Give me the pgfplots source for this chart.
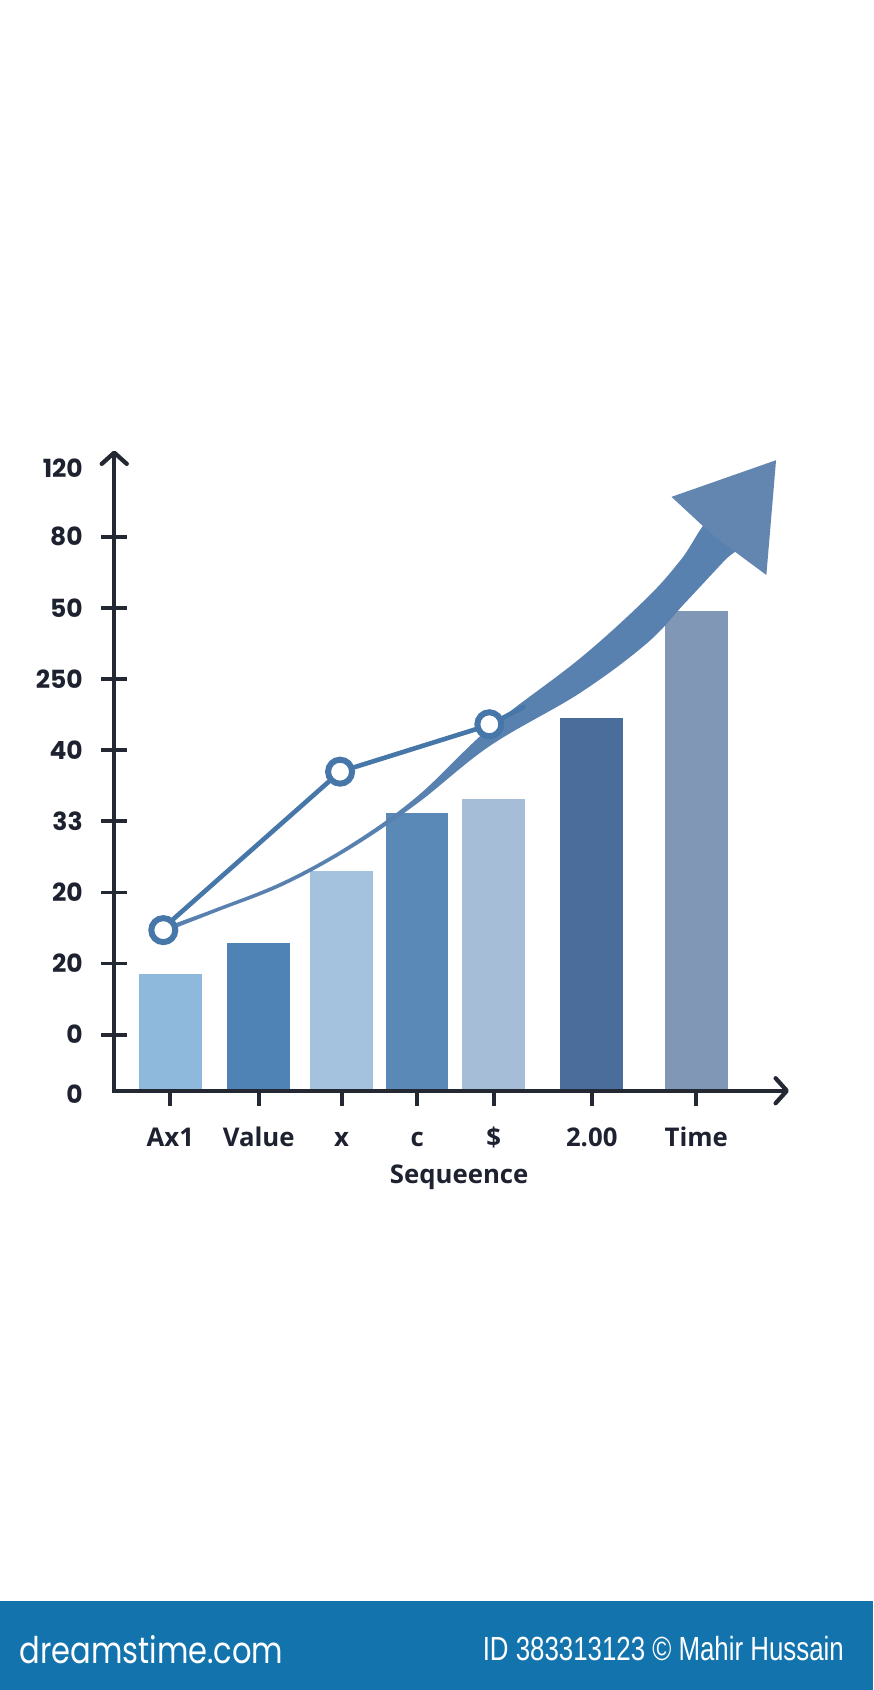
\documentclass[border=0pt]{standalone}
\usepackage{pgfplots}
\pgfplotsset{compat=1.18}
\usetikzlibrary{arrows.meta}
\usepackage{fontspec}
\setmainfont{Open Sans}
\newfontfamily\labfont{Open Sans}
\newfontfamily\tickfont{Poppins}
\newfontfamily\bannerfont{Liberation Sans}
\definecolor{axisc}{HTML}{232833}
\definecolor{labc}{HTML}{1E2230}
\definecolor{barA}{HTML}{8FB9DC}
\definecolor{barB}{HTML}{4F82B5}
\definecolor{barC}{HTML}{A4C1DD}
\definecolor{barD}{HTML}{5A89B7}
\definecolor{barE}{HTML}{A6BDD7}
\definecolor{barF}{HTML}{4A6D9B}
\definecolor{barG}{HTML}{8197B6}
\definecolor{arrowc}{HTML}{5981B0}
\definecolor{headc}{HTML}{6386B1}
\definecolor{linec}{HTML}{4777A9}
\definecolor{bannerc}{HTML}{1373AD}
\begin{document}
\begin{tikzpicture}
\fill[white] (0,0) rectangle (349.19pt,675.96pt);
\fill[bannerc] (0,0) rectangle (349.19pt,35.78pt);
\node[anchor=base, text=white, inner sep=0pt] at (60.57pt,10.78pt) {\resizebox{105.6pt}{11.2pt}{\tickfont dreamstime.com}};
\node[anchor=base, text=white, inner sep=0pt] at (265.3pt,11.64pt) {\resizebox{144.4pt}{9.7pt}{\bannerfont ID 383313123 © Mahir Hussain}};
% axis 1: bars and x axis
\begin{axis}[
  at={(45.70pt,239.69pt)}, anchor=south west,
  scale only axis, width=269.87pt, height=256.07pt,
  xmin=106, xmax=732, ymin=0, ymax=594,
  clip=false, axis on top,
  axis x line=bottom, axis y line=none,
  axis line style={draw=axisc, line width=1.7pt, line cap=rect, -{Straight Barb[length=4.5pt, width=10pt, round]}},
  tick align=outside, major tick length=6pt,
  tick style={draw=axisc, line width=1.5pt},
  xtick={158,240,317,387,458,549,646},
  xticklabels={Ax1,Value,x,c,\$,2.00,Time},
  typeset ticklabels with strut,
  xticklabel style={font=\labfont\bfseries\fontsize{10.3}{12}\selectfont, text=labc, yshift=-4.5pt},
  ytick=\empty,
  xlabel={Sequeence},
  xlabel style={at={(axis cs:426,-80)}, anchor=center, font=\labfont\bfseries\fontsize{10.3}{12}\selectfont, text=labc},
]
\addplot[ybar, bar width=58, fill=barA, draw=none] coordinates {(158,108)};
\addplot[ybar, bar width=58, fill=barB, draw=none] coordinates {(240,137)};
\addplot[ybar, bar width=58, fill=barC, draw=none] coordinates {(317,204)};
\addplot[ybar, bar width=58, fill=barD, draw=none] coordinates {(387,258)};
\addplot[ybar, bar width=58, fill=barE, draw=none] coordinates {(458,271)};
\addplot[ybar, bar width=58, fill=barF, draw=none] coordinates {(549,346)};
\addplot[ybar, bar width=58, fill=barG, draw=none] coordinates {(646,445)};
\end{axis}
% axis 2: y axis, trend arrow and line
\begin{axis}[
  at={(45.70pt,239.69pt)}, anchor=south west,
  scale only axis, width=269.87pt, height=256.07pt,
  xmin=106, xmax=732, ymin=0, ymax=594,
  clip=false,
  axis x line=none, axis y line=left,
  axis line style={draw=axisc, line width=1.7pt, line cap=rect, -{Straight Barb[length=4.5pt, width=10pt, round]}},
  tick align=center, major tick length=10.35pt,
  tick style={draw=axisc, line width=1.5pt},
  xtick=\empty,
  ytick={52,118,184,250,316,382,448,514},
  yticklabels={0,20,20,33,40,250,50,80},
  extra y ticks={0,580},
  extra y tick labels={0,120},
  extra y tick style={tick style={draw=none}, yticklabel style={yshift=-1.2pt}},
  yticklabel style={font=\tickfont\bfseries\fontsize{10}{11}\selectfont, text=labc, xshift=-3.9pt},
]
% arrow shaft (upper edge up, lower edge back)
\addplot[fill=arrowc, draw=none, smooth, tension=0.6] coordinates {
  (150.5,151) (201,169.5) (263,194.3) (325,228.5) (387,273) (454.6,337) (538,401) (600,457) (632,493) (662,533)
  (690,510) (672.7,492.4) (635,452) (600,415) (538,369) (454.6,320) (387,266.5) (325,224.3) (263,190.5) (201,166) (152.5,147)};
% arrow head
\addplot[fill=headc, draw=none] coordinates {
  (651,525) (623,551) (720,585) (711,478.5) (682,500) (666,512)};
\addplot[linec, line width=1.85pt, line join=round, line cap=round] coordinates {
  (151.5,151) (315.5,296) (453,339) (486,356)};
\addplot[only marks, mark=*, mark size=4.8pt, mark options={fill=white, draw=linec, line width=2.4pt}] coordinates {
  (151.5,149) (315.5,296) (454,340)};
\end{axis}
\end{tikzpicture}
\end{document}
